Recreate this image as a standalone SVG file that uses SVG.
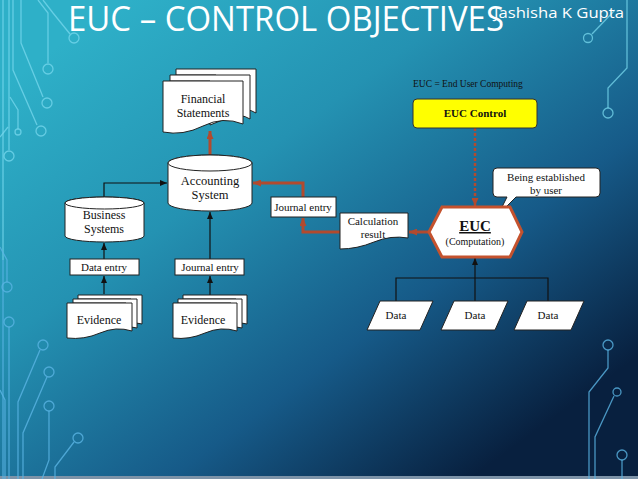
<svg xmlns="http://www.w3.org/2000/svg" width="638" height="479" viewBox="0 0 638 479">
<defs>
<linearGradient id="bg" gradientUnits="userSpaceOnUse" x1="120" y1="0" x2="470" y2="479">
<stop offset="0" stop-color="#2eb0c8"/>
<stop offset="0.35" stop-color="#2492b2"/>
<stop offset="0.7" stop-color="#165a88"/>
<stop offset="1" stop-color="#08203f"/>
</linearGradient>
<marker id="ab" markerUnits="userSpaceOnUse" markerWidth="7" markerHeight="6" refX="7" refY="3" orient="auto"><path d="M0,0 L7,3 L0,6 Z" fill="#111"/></marker>
<marker id="ar" markerUnits="userSpaceOnUse" markerWidth="8" markerHeight="7" refX="8" refY="3.5" orient="auto"><path d="M0,0 L8,3.5 L0,7 Z" fill="#b24a2e"/></marker>
<style>
.deco{fill:none;stroke:#78d8ee;stroke-width:1.3;stroke-opacity:0.75}
.deco2{fill:none;stroke:#5ab4e4;stroke-width:1.3;stroke-opacity:0.8}
.shape{fill:#fff;stroke:#222;stroke-width:1}
.t{font-family:"Liberation Serif","Times New Roman",serif;fill:#111;text-anchor:middle}
.cb{fill:none;stroke:#111;stroke-width:1.2}
.cr{fill:none;stroke:#b24a2e;stroke-width:3}
</style>
</defs>
<rect width="638" height="479" fill="url(#bg)"/>
<rect y="476" width="638" height="3" fill="#7d93a8"/>
<g id="decoration">
<g class="deco">
<path d="M3,0 V260"/>
<path d="M9,0 V150"/>
<circle cx="9" cy="156" r="5"/>
<path d="M13,0 V70 L37,125"/>
<circle cx="41" cy="131" r="5"/>
<path d="M21,0 V43 L43,97"/>
<circle cx="47" cy="103" r="5"/>
<path d="M38,0 L48,13 V63"/>
<circle cx="48" cy="69" r="5"/>
<path d="M43,0 L53,13 L70,34"/>
<circle cx="74" cy="38" r="5"/>
<path d="M10,97 L18,110 V129"/>
<circle cx="18" cy="132" r="3"/>
<path d="M0,137 L8,127"/>
<path d="M615,10 L592,34"/>
<circle cx="588" cy="38" r="4.5"/>
<path d="M627,0 V68 L608,88 V108"/>
<circle cx="608" cy="113" r="5"/>
</g>
<g class="deco2">
<path d="M3,260 V479"/>
<path d="M0,247 L7,260 V282"/>
<circle cx="7" cy="287" r="5"/>
<circle cx="9" cy="322" r="5"/>
<path d="M9,327 V479"/>
<path d="M0,390 L5,400 V479"/>
<circle cx="43" cy="345" r="5"/>
<path d="M40,350 L18,402 V479"/>
<circle cx="49" cy="372" r="5"/>
<path d="M47,377 L23,433 V479"/>
<circle cx="49" cy="406" r="5"/>
<path d="M49,411 V460 L42,479"/>
<circle cx="78" cy="438" r="5"/>
<path d="M74,442 L55,467 V479"/>
<circle cx="608" cy="345" r="5"/>
<path d="M608,350 V368 L589,392 V479"/>
<circle cx="617" cy="392" r="4"/>
<path d="M614,396 L595,437 V479"/>
<circle cx="622" cy="455" r="5"/>
<path d="M622,460 V479"/>
</g>
</g>
<text x="68" y="31" font-family="'Open Sans',sans-serif" font-size="34" fill="#fff" textLength="436" lengthAdjust="spacingAndGlyphs">EUC – CONTROL OBJECTIVES</text>
<text x="494" y="18" font-family="'Open Sans',sans-serif" font-size="14" fill="#fff" textLength="130" lengthAdjust="spacingAndGlyphs">Jashisha K Gupta</text>

<g id="connectors">
<path class="cb" d="M104,294 V276" marker-end="url(#ab)"/>
<path class="cb" d="M104,259 V243" marker-end="url(#ab)"/>
<path class="cb" d="M104,197 V183 H167" marker-end="url(#ab)"/>
<path class="cb" d="M210,295 V276" marker-end="url(#ab)"/>
<path class="cb" d="M210,259 V212" marker-end="url(#ab)"/>
<path class="cb" d="M396,301 V278 H548 V301"/>
<path class="cb" d="M475,301 V258" marker-end="url(#ab)"/>
<path class="cr" d="M210,155 V131" marker-end="url(#ar)"/>
<path class="cr" d="M303,197 V183 H253" marker-end="url(#ar)"/>
<path class="cr" d="M340,232 H303 V218" marker-end="url(#ar)"/>
<path class="cr" d="M429,232 H409" marker-end="url(#ar)"/>
<path d="M475,128 V206" fill="none" stroke="#b24a2e" stroke-width="2.5" stroke-dasharray="3,2" marker-end="url(#ar)"/>
</g>

<g id="financial">
<path class="shape" d="M176,69 H256 V113 Q246,107 236,111 T216,119 V75 H176 Z"/>
<path class="shape" d="M170,75 H250 V119 Q240,113 230,117 T210,125 V81 H170 Z"/>
<path class="shape" d="M163,81 H243 V124 Q223,116 203,126 T163,132 Z"/>
<text class="t" x="203" y="103" font-size="12">Financial</text>
<text class="t" x="203" y="117" font-size="12">Statements</text>
</g>

<g id="accounting">
<path class="shape" d="M168,163 V203 A42,8 0 0 0 252,203 V163 A42,8 0 0 0 168,163 Z"/>
<ellipse class="shape" cx="210" cy="163" rx="42" ry="8"/>
<text class="t" x="210" y="185" font-size="12.5">Accounting</text>
<text class="t" x="210" y="199" font-size="12.5">System</text>
</g>

<g id="business">
<path class="shape" d="M65,203 V236 A39.5,6 0 0 0 144,236 V203 A39.5,6 0 0 0 65,203 Z"/>
<ellipse class="shape" cx="104.5" cy="203" rx="39.5" ry="6"/>
<text class="t" x="104" y="219" font-size="12">Business</text>
<text class="t" x="104" y="233" font-size="12">Systems</text>
</g>

<g id="dataentry">
<rect class="shape" x="70" y="259" width="69" height="16"/>
<text class="t" x="104" y="271" font-size="11">Data entry</text>
</g>

<g id="journal1">
<rect class="shape" x="175" y="259" width="69" height="16"/>
<text class="t" x="210" y="271" font-size="11">Journal entry</text>
</g>

<g id="evidence1">
<path class="shape" d="M78,295 H142 V324 Q136,322 131,324 V299 H78 Z"/>
<path class="shape" d="M73,299 H137 V328 Q131,326 126,328 V303 H73 Z"/>
<path class="shape" d="M67,303 H132 V331 Q116,326 100,333 T67,338 Z"/>
<text class="t" x="99" y="324" font-size="12">Evidence</text>
</g>

<g id="evidence2">
<path class="shape" d="M183,295 H247 V324 Q241,322 236,324 V299 H183 Z"/>
<path class="shape" d="M178,299 H242 V328 Q236,326 231,328 V303 H178 Z"/>
<path class="shape" d="M173,303 H237 V331 Q221,326 205,333 T173,338 Z"/>
<text class="t" x="203" y="324" font-size="12">Evidence</text>
</g>

<g id="journal2">
<rect class="shape" x="271" y="197" width="65" height="20"/>
<text class="t" x="303" y="211" font-size="11">Journal entry</text>
</g>

<g id="calc">
<path class="shape" d="M340,213 H408 V238 Q391,235 374,242 T340,249 Z"/>
<text class="t" x="373" y="225" font-size="11">Calculation</text>
<text class="t" x="373" y="238" font-size="11">result</text>
</g>

<g id="legend">
<text x="413" y="87" font-family="'Liberation Serif','Times New Roman',serif" font-size="9.5" fill="#111">EUC = End User Computing</text>
</g>

<g id="euccontrol">
<rect x="413" y="99" width="124" height="29" rx="4" fill="#ffff00" stroke="#333" stroke-width="1"/>
<text class="t" x="475" y="117" font-size="11" font-weight="bold">EUC Control</text>
</g>

<g id="callout">
<path class="shape" d="M497,168 H596 Q600,168 600,172 V193 Q600,197 596,197 H516 L498,215 L507,197 H497 Q493,197 493,193 V172 Q493,168 497,168 Z"/>
<text class="t" x="546" y="181" font-size="11">Being established</text>
<text class="t" x="546" y="194" font-size="11">by user</text>
</g>

<g id="euc">
<path d="M429,232 L442,207 H510 L522,232 L510,257 H442 Z" fill="#fff" stroke="#c4522e" stroke-width="3"/>
<text class="t" x="475" y="231" font-size="15" font-weight="bold" text-decoration="underline">EUC</text>
<text class="t" x="475" y="245" font-size="10">(Computation)</text>
</g>

<g id="data1">
<path class="shape" d="M380,301 H433 L420,330 H367 Z"/>
<text class="t" x="396" y="319" font-size="11">Data</text>
</g>
<g id="data2">
<path class="shape" d="M454,301 H508 L495,330 H441 Z"/>
<text class="t" x="475" y="319" font-size="11">Data</text>
</g>
<g id="data3">
<path class="shape" d="M527,301 H584 L571,330 H514 Z"/>
<text class="t" x="548" y="319" font-size="11">Data</text>
</g>
</svg>
